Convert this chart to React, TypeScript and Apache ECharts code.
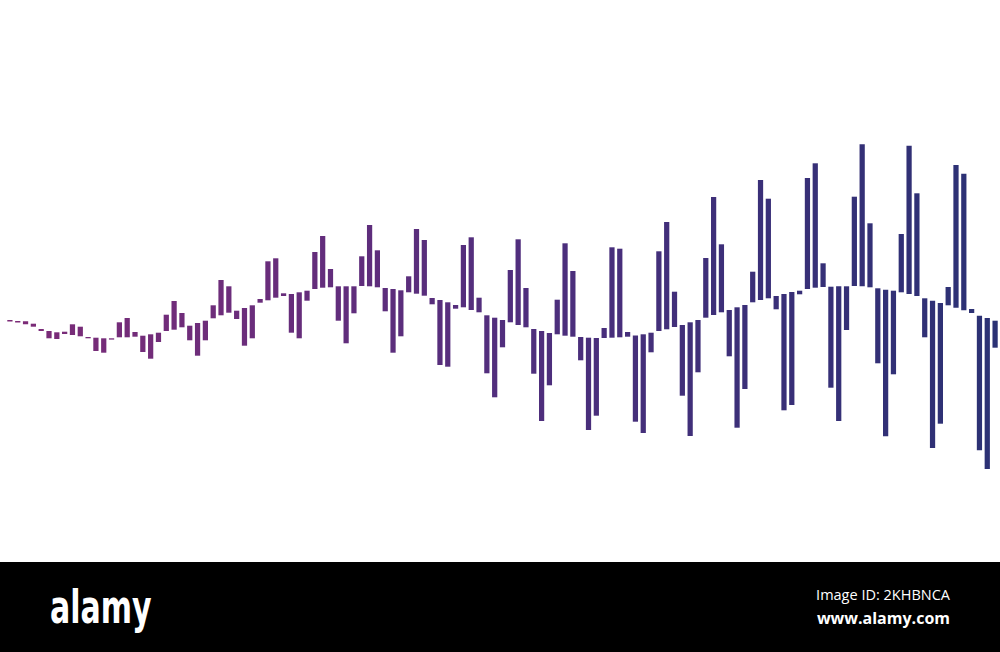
import React, { useEffect, useRef } from "react";
import * as echarts from "echarts";

// Bar tops (high) and bottoms (low), in amplitude units (baseline ≈ 0)
const highs: number[] = [
  -20.0, -21.0, -21.3, -23.7, -29.0, -31.0, -32.3, -31.7, -24.3, -26.7,
  -37.0, -37.7, -38.3, -38.3, -22.3, -18.0, -32.0, -35.7, -34.3, -32.7,
  -14.7, -1.0, -13.0, -25.7, -23.0, -20.7, -5.3, 20.0, 13.7, -10.7,
  -8.0, -5.3, 1.0, 38.7, 41.7, 6.7, 6.0, 7.7, 9.3, 48.0,
  64.0, 31.0, 13.7, 13.7, 13.7, 43.7, 75.0, 49.7, 12.0, 11.0,
  9.7, 23.7, 71.0, 60.0, 2.0, 0.0, -2.3, -5.0, 55.0, 62.7,
  2.3, -15.3, -17.7, -20.0, 30.0, 60.7, 12.0, -29.0, -31.0, -33.0,
  0.3, 56.7, 29.0, -37.0, -37.7, -38.0, -28.0, 52.7, 51.3, -32.0,
  -35.5, -34.3, -32.7, 48.7, 78.0, 8.3, -25.0, -22.3, -20.0, 42.0,
  103.0, 55.7, -10.0, -7.3, -5.0, 28.3, 120.0, 101.3, 4.0, 6.0,
  8.0, 9.3, 122.0, 136.7, 36.7, 13.3, 13.7, 13.7, 103.3, 155.7,
  76.7, 11.7, 10.3, 9.3, 66.0, 154.3, 106.7, 1.7, -0.7, -3.0,
  13.0, 135.0, 126.3, -9.0, -15.7, -18.0, -20.7,
];
const lows: number[] = [
  -21.5, -22.5, -24.3, -26.7, -31.0, -38.3, -39.0, -34.0, -35.0, -36.3,
  -38.3, -51.0, -52.7, -39.5, -37.3, -37.3, -36.7, -52.0, -58.7, -42.0,
  -31.0, -29.7, -27.3, -40.3, -55.7, -40.3, -18.3, -15.3, -12.7, -19.0,
  -45.7, -38.3, -2.7, -0.3, 2.3, 4.0, -32.7, -38.3, -0.7, 11.0,
  12.3, 12.7, -20.7, -43.3, -13.3, 14.0, 13.7, 12.7, -11.3, -52.7,
  -36.3, 7.7, 6.3, 4.3, -4.3, -65.0, -66.7, -8.7, -7.3, -10.0,
  -12.3, -73.3, -97.3, -47.3, -22.3, -25.0, -27.3, -73.7, -121.0, -85.3,
  -34.3, -35.7, -36.7, -60.3, -130.0, -115.7, -38.0, -37.7, -37.3, -36.7,
  -121.7, -133.0, -52.3, -31.0, -29.3, -27.0, -95.7, -136.0, -72.3, -17.7,
  -15.0, -12.3, -56.3, -127.7, -89.0, -2.3, 0.0, 1.7, -9.3, -110.3,
  -105.0, 5.7, 11.0, 12.3, 13.0, -87.7, -121.0, -30.0, 14.0, 13.7,
  12.7, -63.3, -136.3, -74.3, 7.7, 6.0, 4.0, -37.3, -148.0, -123.7,
  -5.3, -7.7, -10.3, -13.0, -150.3, -169.0, -47.7,
];
const categories: string[] = highs.map((_, i) => String(i + 1));

const barColors: string[] = ["#7c2b77", "#6a2d7b", "#512e7d", "#3b2f78", "#2b3174"];

export default function App() {
  const ref = useRef<HTMLDivElement>(null);
  useEffect(() => {
    if (!ref.current) return;
    const chart = echarts.init(ref.current, null, { renderer: "svg" });
    const data = highs.map((h, i) => [i, h, lows[i]]);
    chart.setOption({
      animation: false,
      backgroundColor: "#ffffff",
      grid: { left: 6, right: 1, top: 0, height: 560, containLabel: false },
      xAxis: {
        type: "category",
        data: categories,
        show: false,
      },
      yAxis: {
        type: "value",
        min: -260,
        max: 300,
        show: false,
      },
      visualMap: {
        type: "continuous",
        show: false,
        dimension: 0,
        min: 0,
        max: categories.length - 1,
        seriesIndex: 0,
        inRange: { color: barColors },
      },
      series: [
        {
          type: "custom",
          data,
          encode: { x: 0, y: [1, 2] },
          renderItem: (params: any, api: any) => {
            const i = api.value(0);
            const hi = api.coord([i, api.value(1)]);
            const lo = api.coord([i, api.value(2)]);
            const w = api.size([1, 0])[0] * 0.67;
            return {
              type: "rect",
              shape: {
                x: hi[0] - w / 2,
                y: hi[1],
                width: w,
                height: Math.max(lo[1] - hi[1], 1.3),
              },
              style: { fill: api.visual("color") },
            };
          },
        },
      ],
      graphic: [
        {
          type: "rect",
          left: 0,
          top: 562,
          shape: { width: 1000, height: 90 },
          style: { fill: "#000000" },
        },
        {
          type: "text",
          x: 50,
          y: 607,
          scaleX: 0.71,
          style: {
            text: "alamy",
            fill: "#ffffff",
            font: "bold 47px 'DejaVu Sans Condensed', 'DejaVu Sans', sans-serif",
            textVerticalAlign: "middle",
            textAlign: "left",
          },
        },
        {
          type: "text",
          x: 950,
          y: 594,
          style: {
            text: "Image ID: 2KHBNCA",
            fill: "#ffffff",
            font: "14.5px 'Open Sans', sans-serif",
            textAlign: "right",
            textVerticalAlign: "middle",
          },
        },
        {
          type: "text",
          x: 950,
          y: 618,
          style: {
            text: "www.alamy.com",
            fill: "#ffffff",
            font: "bold 16px 'Open Sans', sans-serif",
            textAlign: "right",
            textVerticalAlign: "middle",
          },
        },
      ],
    });
    return () => chart.dispose();
  }, []);
  return (
    <div
      ref={ref}
      style={{ position: "absolute", left: 0, top: 0, width: 1000, height: 652 }}
    />
  );
}
